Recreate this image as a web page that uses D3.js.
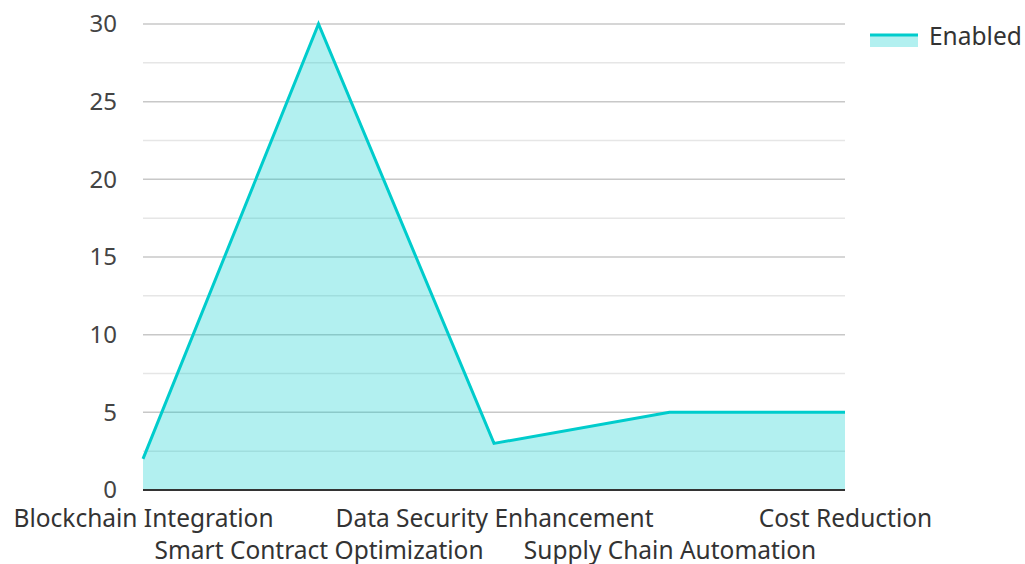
<!DOCTYPE html>
<html>
<head>
<meta charset="utf-8">
<script src="https://cdn.jsdelivr.net/npm/d3@7"></script>
<style>
  html, body { margin: 0; padding: 0; background: #fff; }
  svg text { font-family: "Noto Sans", "Open Sans", sans-serif; }
</style>
</head>
<body>
<svg id="chart" width="1025" height="564"></svg>
<script>
// Adoption counts per blockchain use case
const categories = [
  "Blockchain Integration",
  "Smart Contract Optimization",
  "Data Security Enhancement",
  "Supply Chain Automation",
  "Cost Reduction"
];
const enabledValues = [2, 30, 3, 5, 5];
const yTickValues = [0, 5, 10, 15, 20, 25, 30];
const yMinorTicks = [2.5, 7.5, 12.5, 17.5, 22.5, 27.5];
const seriesName = "Enabled";

const svg = d3.select("#chart");
const plotLeft = 143, plotRight = 845, plotTop = 24, plotBottom = 490;
const fontStack = '"Noto Sans", "Open Sans", sans-serif';

const x = d3.scalePoint().domain(categories).range([plotLeft, plotRight]);
const y = d3.scaleLinear().domain([0, 30]).range([plotBottom, plotTop]);

// Grid lines
svg.append("g").selectAll("line").data(yMinorTicks).join("line")
  .attr("x1", plotLeft).attr("x2", plotRight)
  .attr("y1", d => y(d)).attr("y2", d => y(d))
  .attr("stroke", "#e6e6e6").attr("stroke-width", 1.5);
svg.append("g").selectAll("line").data(yTickValues.filter(v => v > 0)).join("line")
  .attr("x1", plotLeft).attr("x2", plotRight)
  .attr("y1", d => y(d)).attr("y2", d => y(d))
  .attr("stroke", "#c8c8c8").attr("stroke-width", 1.5);

// Area and line
const data = categories.map((c, i) => ({ c, v: enabledValues[i] }));
svg.append("path").datum(data)
  .attr("d", d3.area().x(d => x(d.c)).y0(y(0)).y1(d => y(d.v)))
  .attr("fill", "rgba(0, 204, 204, 0.3)");
svg.append("path").datum(data)
  .attr("d", d3.line().x(d => x(d.c)).y(d => y(d.v)))
  .attr("fill", "none").attr("stroke", "#00cccc").attr("stroke-width", 3)
  .attr("stroke-linejoin", "miter");

// Baseline
svg.append("line")
  .attr("x1", plotLeft).attr("x2", plotRight).attr("y1", y(0)).attr("y2", y(0))
  .attr("stroke", "#333").attr("stroke-width", 2);

// Y axis labels
const yAxis = d3.axisLeft(y).tickValues(yTickValues).tickSize(0).tickPadding(26);
const gy = svg.append("g").attr("transform", `translate(${plotLeft},0)`).call(yAxis);
gy.select(".domain").remove();
gy.selectAll("text")
  .attr("font-size", 24).attr("fill", "#444")
  .style("font-family", fontStack);

// X axis labels, staggered in two rows
const xAxis = d3.axisBottom(x).tickSize(0).tickPadding(0);
const gx = svg.append("g").attr("transform", `translate(0,${plotBottom})`).call(xAxis);
gx.select(".domain").remove();
gx.selectAll("text")
  .attr("font-size", 24.5).attr("fill", "#333")
  .attr("dy", null)
  .attr("y", (d, i) => i % 2 === 0 ? 37 : 69)
  .style("font-family", fontStack);

// Legend
const lg = svg.append("g");
lg.append("rect").attr("x", 870).attr("y", 35).attr("width", 48).attr("height", 12)
  .attr("fill", "rgba(0, 204, 204, 0.3)");
lg.append("line").attr("x1", 870).attr("x2", 918).attr("y1", 35).attr("y2", 35)
  .attr("stroke", "#00cccc").attr("stroke-width", 3);
lg.append("text").attr("x", 929).attr("y", 36).attr("dy", "0.35em")
  .attr("font-size", 24.5).attr("fill", "#333").text(seriesName);
</script>
</body>
</html>
